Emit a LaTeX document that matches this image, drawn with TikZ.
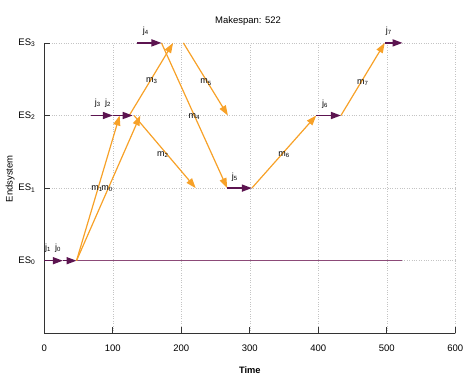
\documentclass[tikz,border=0pt]{standalone}
\usepackage{fontspec}
\setmainfont{Liberation Sans}
\usetikzlibrary{arrows.meta}
\definecolor{jobcol}{HTML}{5C1450}
\definecolor{spancol}{HTML}{8C4A78}
\definecolor{msgcol}{HTML}{F7A128}
\definecolor{gridcol}{HTML}{C4C4C4}
\definecolor{axcol}{HTML}{333333}

\begin{document}
\begin{tikzpicture}[x=0.685pt, y=72.6pt, font=\fontsize{9.5}{11}\selectfont,
	job/.style={color=jobcol, line width=1.6pt, -{Triangle[length=10pt,width=7pt]}},
	msg/.style={color=msgcol, line width=1.2pt, -{Triangle[length=10pt,width=7pt]}},
	lbl/.style={inner sep=0pt, font=\fontsize{9}{10}\selectfont}]
	\useasboundingbox (-64.7,-1.629) rectangle (627.3,3.591);
	% grid
	\foreach \t in {100,200,...,600} \draw[gridcol, dotted] (\t,-1) -- (\t,3);
	\foreach \e in {0,...,3} \draw[gridcol, dotted] (0,\e) -- (600,\e);
	% axes
	\draw[axcol, line width=1.4pt] (0,3) -- (0,-1);
	\draw[axcol, line width=1pt] (0,-1) -- (600,-1);
	\foreach \t in {100,200,...,600} \draw[axcol, line width=0.8pt] (\t,-1) -- (\t,-0.92);
	\foreach \e in {0,...,3} {
		\draw[axcol, line width=0.8pt] (0,\e) -- (9,\e);
		\node[anchor=east] (es\e) at (-8,\e) {ES\textsubscript{\e}};
	}
	\foreach \t in {0,100,...,600} \node (tk\t) at (\t,-1.2) {\t};
	\node[font=\bfseries\fontsize{9.3}{11}\selectfont] (xlab) at (300,-1.505) {Time};
	\node[rotate=90] (ylab) at (-50,1.13) {Endsystem};
	\node (title) at (297.4,3.30) {Makespan: 522};

	% jobs
	\coordinate (j1a) at (0,0);   \coordinate (j1b) at (27,0);
	\coordinate (j0b) at (47,0);
	\coordinate (j3a) at (68,2);  \coordinate (j3b) at (100,2);
	\coordinate (j2b) at (129,2);
	\coordinate (j4a) at (136,3); \coordinate (j4b) at (171,3);
	\coordinate (j5a) at (267,1); \coordinate (j5b) at (303,1);
	\coordinate (j6a) at (397,2); \coordinate (j6b) at (433,2);
	\coordinate (j7a) at (497,3); \coordinate (j7b) at (523,3);
	\coordinate (spanend) at (522,0);
	% message ends
	\coordinate (m1b) at (110,2);
	\coordinate (m0b) at (140,2);
	\coordinate (m3a) at (124,2); \coordinate (m3b) at (188,3);
	\coordinate (m2a) at (131,2); \coordinate (m2b) at (221,1);
	\coordinate (m5a) at (203,3); \coordinate (m5b) at (268,2);

	\draw[spancol, line width=0.8pt] (j0b) -- (spanend);

	\draw[msg] (j0b) -- (m1b);
	\draw[msg] (j0b) -- (m0b);
	\draw[msg] (m3a) -- (m3b);
	\draw[msg] (m2a) -- (m2b);
	\draw[msg] (j4b) -- (j5a);
	\draw[msg] (m5a) -- (m5b);
	\draw[msg] (j5b) -- (j6a);
	\draw[msg] (j6b) -- (j7a);

	\draw[job] (j1a) -- (j1b);
	\draw[job] (j1b) -- (j0b);
	\draw[job] (j3a) -- (j3b);
	\draw[job] (j3b) -- (j2b);
	\draw[job] (j4a) -- (j4b);
	\draw[job] (j5a) -- (j5b);
	\draw[job] (j6a) -- (j6b);
	\draw[job] (j7a) -- (j7b);

	% labels
	\node[lbl] (lj1) at (5.4,0.175) {j\textsubscript{1}};
	\node[lbl] (lj0) at (20,0.175) {j\textsubscript{0}};
	\node[lbl] (lj3) at (78,2.172) {j\textsubscript{3}};
	\node[lbl] (lj2) at (93,2.172) {j\textsubscript{2}};
	\node[lbl] (lj4) at (148,3.164) {j\textsubscript{4}};
	\node[lbl] (lj5) at (278,1.153) {j\textsubscript{5}};
	\node[lbl] (lj6) at (410,2.158) {j\textsubscript{6}};
	\node[lbl] (lj7) at (503,3.16) {j\textsubscript{7}};
	\node[lbl] (lm1) at (77,0.988) {m\textsubscript{1}};
	\node[lbl] (lm0) at (91.5,0.988) {m\textsubscript{0}};
	\node[lbl] (lm3) at (157,2.475) {m\textsubscript{3}};
	\node[lbl] (lm5) at (236,2.46) {m\textsubscript{5}};
	\node[lbl] (lm4) at (219,1.98) {m\textsubscript{4}};
	\node[lbl] (lm2) at (173,1.456) {m\textsubscript{2}};
	\node[lbl] (lm6) at (350,1.456) {m\textsubscript{6}};
	\node[lbl] (lm7) at (465,2.46) {m\textsubscript{7}};
\end{tikzpicture}
\end{document}
